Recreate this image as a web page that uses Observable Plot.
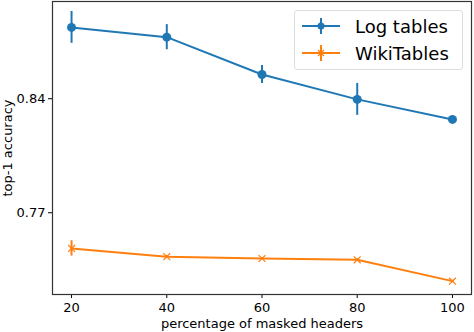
<!DOCTYPE html>
<html><head><meta charset="utf-8">
<script src="https://cdn.jsdelivr.net/npm/d3@7"></script>
<script src="https://cdn.jsdelivr.net/npm/@observablehq/plot@0.6"></script>
<style>
body{margin:0;background:#fff;font-family:"DejaVu Sans",sans-serif;}
#wrap{position:relative;width:474px;height:332px;}
#legend{position:absolute;left:294px;top:10px;width:167px;height:58px;border:1px solid #ddd;border-radius:3px;background:rgba(255,255,255,0.8);font-size:18px;color:#000;}
.row{position:absolute;left:0;height:24px;display:flex;align-items:center;white-space:nowrap;}
.row svg{margin-left:7px;margin-right:15px;flex:none;}
</style>
</head><body>
<div id="wrap"><div id="legend"></div></div>
<script>
const pct = [20, 40, 60, 80, 100];
const logTables = [0.8838, 0.8778, 0.8549, 0.8396, 0.8273];
const logErr = [0.0098, 0.0077, 0.0055, 0.0098, 0.0008];
const wikiTables = [0.7481, 0.7430, 0.7419, 0.7411, 0.7280];
const wikiErr = [0.0047, 0.0008, 0.0006, 0.0006, 0.0006];
const seriesNames = ["Log tables", "WikiTables"];
const colors = ["#1f77b4", "#ff7f0e"];
const yTicks = [0.77, 0.84];

const data = [];
pct.forEach((p, i) => {
  data.push({pct: p, acc: logTables[i], err: logErr[i], s: seriesNames[0]});
  data.push({pct: p, acc: wikiTables[i], err: wikiErr[i], s: seriesNames[1]});
});
const logD = data.filter(d => d.s === seriesNames[0]);
const wikiD = data.filter(d => d.s === seriesNames[1]);

const chart = Plot.plot({
  width: 474, height: 332,
  marginLeft: 52, marginTop: 1, marginRight: 3, marginBottom: 38,
  style: {fontFamily: "DejaVu Sans, sans-serif", fontSize: "13px", color: "#000", background: "#fff"},
  x: {domain: [16, 104], ticks: pct, tickSize: 4, tickPadding: 4, label: "percentage of masked headers", labelAnchor: "center", labelOffset: 33, labelArrow: "none"},
  y: {domain: [0.7198, 0.8997], ticks: yTicks, tickSize: 4, tickPadding: 3, tickFormat: d3.format(".2f"), label: "top-1 accuracy", labelAnchor: "center", labelOffset: 50, labelArrow: "none"},
  marks: [
    Plot.frame({stroke: "#333", strokeWidth: 1.2}),
    Plot.ruleX(logD, {x: "pct", y1: d => d.acc - d.err, y2: d => d.acc + d.err, stroke: colors[0], strokeWidth: 2}),
    Plot.ruleX(wikiD, {x: "pct", y1: d => d.acc - d.err, y2: d => d.acc + d.err, stroke: colors[1], strokeWidth: 2}),
    Plot.line(logD, {x: "pct", y: "acc", stroke: colors[0], strokeWidth: 2}),
    Plot.line(wikiD, {x: "pct", y: "acc", stroke: colors[1], strokeWidth: 2}),
    Plot.dot(logD, {x: "pct", y: "acc", fill: colors[0], r: 4.5}),
    Plot.dot(wikiD, {x: "pct", y: "acc", symbol: "times", stroke: colors[1], strokeWidth: 1.2, r: 3.2})
  ]
});
document.getElementById("wrap").prepend(chart);

const leg = document.getElementById("legend");
seriesNames.forEach((n, i) => {
  const row = document.createElement("div");
  row.className = "row";
  row.style.top = (3 + i * 27) + "px";
  const mk = i === 0
    ? `<circle cx="19" cy="12" r="3.5" fill="${colors[i]}"/>`
    : `<path d="M16,9L22,15M22,9L16,15" stroke="${colors[i]}" stroke-width="1.2"/>`;
  row.innerHTML = `<svg width="38" height="24"><line x1="0" y1="12" x2="38" y2="12" stroke="${colors[i]}" stroke-width="2"/><line x1="19" y1="4" x2="19" y2="20" stroke="${colors[i]}" stroke-width="2"/>${mk}</svg><span>${n}</span>`;
  leg.appendChild(row);
});
</script>
</body></html>
